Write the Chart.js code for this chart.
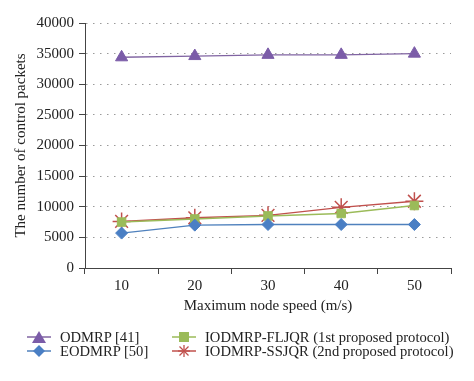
<!DOCTYPE html>
<html><head><meta charset="utf-8">
<script src="https://cdn.jsdelivr.net/npm/chart.js@4/dist/chart.umd.min.js"></script>
<style>
html,body{margin:0;padding:0;background:#fff;}
#wrap{position:relative;width:474px;height:381px;}
#legend{position:absolute;left:0;top:328px;font-family:"Liberation Serif","DejaVu Serif",serif;font-size:14.6px;color:#222;}
.item{position:absolute;display:flex;align-items:center;white-space:nowrap;height:14px;}
.item svg{margin-right:9px;}
</style></head>
<body>
<div id="wrap"><canvas id="c" width="474" height="381"></canvas>
<div id="legend"></div></div>
<script>
const categories = ["10","20","30","40","50"];
const odmrp = [34400, 34600, 34800, 34800, 35000];
const eodmrp = [5700, 7000, 7100, 7100, 7100];
const fljqr = [7500, 8000, 8500, 8900, 10200];
const ssjqr = [7600, 8200, 8600, 9900, 10900];
const yTicks = [0,5000,10000,15000,20000,25000,30000,35000,40000];
const seriesNames = ["ODMRP [41]","EODMRP [50]","IODMRP-FLJQR (1st proposed protocol)","IODMRP-SSJQR (2nd proposed protocol)"];

const FONT = "'Liberation Serif','DejaVu Serif',serif";
const styles = [
  {line:"#8064A2", fill:"#7B5CA8", ps:"triangle", r:7},
  {line:"#4F81BD", fill:"#4A7FC4", ps:"rectRot", r:6},
  {line:"#9BBB59", fill:"#9BBB59", ps:"rect", r:6},
  {line:"#C0504D", fill:"#C0504D", ps:"star", r:9}
];
const data = [odmrp, eodmrp, fljqr, ssjqr];

new Chart(document.getElementById('c'), {
  type:'line',
  data:{
    labels:categories,
    datasets:data.map((d,i)=>({
      label:seriesNames[i], data:d,
      borderColor:styles[i].line, borderWidth:1.4,
      pointStyle:styles[i].ps, pointRadius:styles[i].r,
      pointBackgroundColor:styles[i].fill,
      pointBorderColor: i===3 ? "#C0504D" : styles[i].fill,
      pointBorderWidth: i===3 ? 1.5 : 1,
      tension:0
    }))
  },
  options:{
    responsive:false, animation:false,
    layout:{padding:{left:0,right:23,top:23,bottom:66}},
    plugins:{legend:{display:false}, tooltip:{enabled:false}},
    scales:{
      x:{
        offset:true,
        grid:{display:true, drawOnChartArea:false, drawTicks:true, tickLength:6, offset:true, color:"#444", tickColor:"#444"},
        border:{display:true,color:"#444",width:1},
        ticks:{font:{family:FONT,size:15},color:"#222",padding:3},
        title:{display:true,text:"Maximum node speed (m/s)",font:{family:FONT,size:15},color:"#222",padding:{top:3,bottom:0}},
        afterFit:s=>{s.height=47;}
      },
      y:{
        min:0,max:40000,
        afterBuildTicks:s=>{s.ticks=yTicks.map(v=>({value:v}));},
        grid:{color:"#9a9a9a",lineWidth:1,tickLength:6,tickColor:"#444",drawTicks:true},
        border:{display:true,color:"#444",width:1,dash:[1.5,5.5]},
        ticks:{font:{family:FONT,size:15},color:"#222",padding:5,callback:v=>String(v)},
        title:{display:true,text:"The number of control packets",font:{family:FONT,size:15},color:"#222",padding:{top:12,bottom:0}},
        afterFit:s=>{s.width=85;}
      }
    }
  }
});

// HTML legend
const leg = document.getElementById('legend');
const pos = [[27,2],[27,16],[172,2],[172,16]];
function markerSVG(i){
  const s=styles[i];
  let m="";
  if(s.ps==="triangle") m=`<polygon points="12,0 19,12 5,12" fill="${s.fill}"/>`;
  else if(s.ps==="rectRot") m=`<polygon points="12,0 18,6 12,12 6,6" fill="${s.fill}"/>`;
  else if(s.ps==="rect") m=`<rect x="7" y="1" width="10" height="10" fill="${s.fill}"/>`;
  else m=`<g stroke="${s.line}" stroke-width="1.3"><line x1="12" y1="0" x2="12" y2="12"/><line x1="6" y1="6" x2="18" y2="6"/><line x1="7.5" y1="1.5" x2="16.5" y2="10.5"/><line x1="16.5" y1="1.5" x2="7.5" y2="10.5"/></g>`;
  return `<svg width="24" height="12" viewBox="0 0 24 12"><line x1="0" y1="6" x2="24" y2="6" stroke="${s.line}" stroke-width="1.5"/>${m}</svg>`;
}
seriesNames.forEach((n,i)=>{
  const d=document.createElement('div');
  d.className='item';
  d.style.left=pos[i][0]+'px'; d.style.top=pos[i][1]+'px';
  d.innerHTML=markerSVG(i)+'<span>'+n+'</span>';
  leg.appendChild(d);
});
</script>
</body></html>
